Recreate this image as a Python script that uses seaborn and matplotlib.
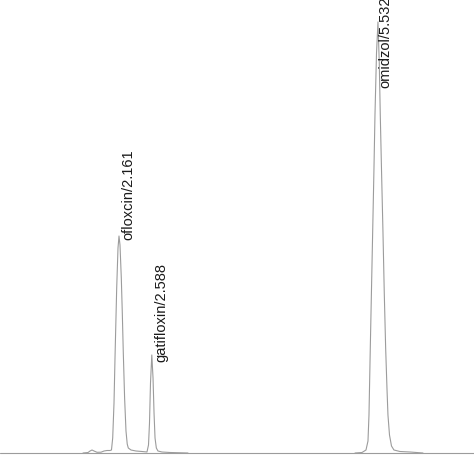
import numpy as np
import pandas as pd
import matplotlib
matplotlib.use("Agg")
import matplotlib.pyplot as plt
import seaborn as sns

# ── 数据──
# 第一段：2.0 min 附近的小峰 + ofloxcin + gatifloxin
seg1_time = [1.692, 1.758, 1.784, 1.810, 1.836, 1.875, 1.927, 1.966, 2.005, 2.044,
             2.063, 2.079, 2.096, 2.109, 2.131, 2.148, 2.161, 2.174, 2.191, 2.204,
             2.217, 2.234, 2.252, 2.268, 2.282, 2.317, 2.382, 2.460, 2.525, 2.545,
             2.558, 2.571, 2.588, 2.604, 2.617, 2.630, 2.647, 2.668, 2.720, 2.825, 3.059]
seg1_signal = [0, 0.5, 2, 3, 2, 0.7, 0.8, 2, 2.5, 2.5,
               3, 15, 50, 95, 165, 205, 217, 208, 175, 140,
               100, 55, 22, 9, 5, 3, 2, 1.5, 1, 8,
               30, 70, 98, 75, 40, 15, 5, 2, 1, 0.5, 0]
# 第二段：omidzol
seg2_time = [5.233, 5.324, 5.376, 5.402, 5.415, 5.432, 5.448, 5.463, 5.480, 5.493,
             5.513, 5.532, 5.549, 5.562, 5.579, 5.597, 5.614, 5.632, 5.649, 5.662,
             5.682, 5.708, 5.740, 5.818, 5.948, 6.118]
seg2_signal = [0, 0.5, 3, 12, 38, 105, 165, 221, 285, 338,
               400, 431, 390, 338, 280, 221, 160, 105, 65, 38,
               18, 7, 3, 1.5, 1, 0]

peak_names = ["ofloxcin", "gatifloxin", "omidzol"]
peak_rt = [2.161, 2.588, 5.532]
peak_height = [217, 98, 431]

# 标签偏移（像素）
label_offsets = [(9, -4), (10, -7), (7, -66)]

df = pd.DataFrame({
    "time": seg1_time + seg2_time,
    "signal": seg1_signal + seg2_signal,
    "seg": [1] * len(seg1_time) + [2] * len(seg2_time),
})

sns.set_style("white")
plt.rcParams["font.family"] = ["Liberation Sans", "DejaVu Sans"]

fig = plt.figure(figsize=(4.74, 4.74), dpi=100)
ax = fig.add_axes([0, 0, 1, 1])
line_c = "#9c9c9c"
ax.axhline(0, color=line_c, lw=0.8, zorder=1)
sns.lineplot(data=df, x="time", y="signal", units="seg", estimator=None,
             sort=False, color=line_c, lw=0.8, ax=ax, zorder=2)

for name, rt, h, (dx, dy) in zip(peak_names, peak_rt, peak_height, label_offsets):
    ax.annotate(f"{name}/{rt:.3f}", xy=(rt, h), xytext=(dx, dy),
                textcoords="offset pixels", rotation=90, ha="center", va="bottom",
                fontsize=10.5, color="#1a1a1a")

ax.set_xlim(0.612, 6.782)
ax.set_ylim(-21, 453)
ax.set_axis_off()
fig.savefig("out.png", dpi=100)
plt.close(fig)
